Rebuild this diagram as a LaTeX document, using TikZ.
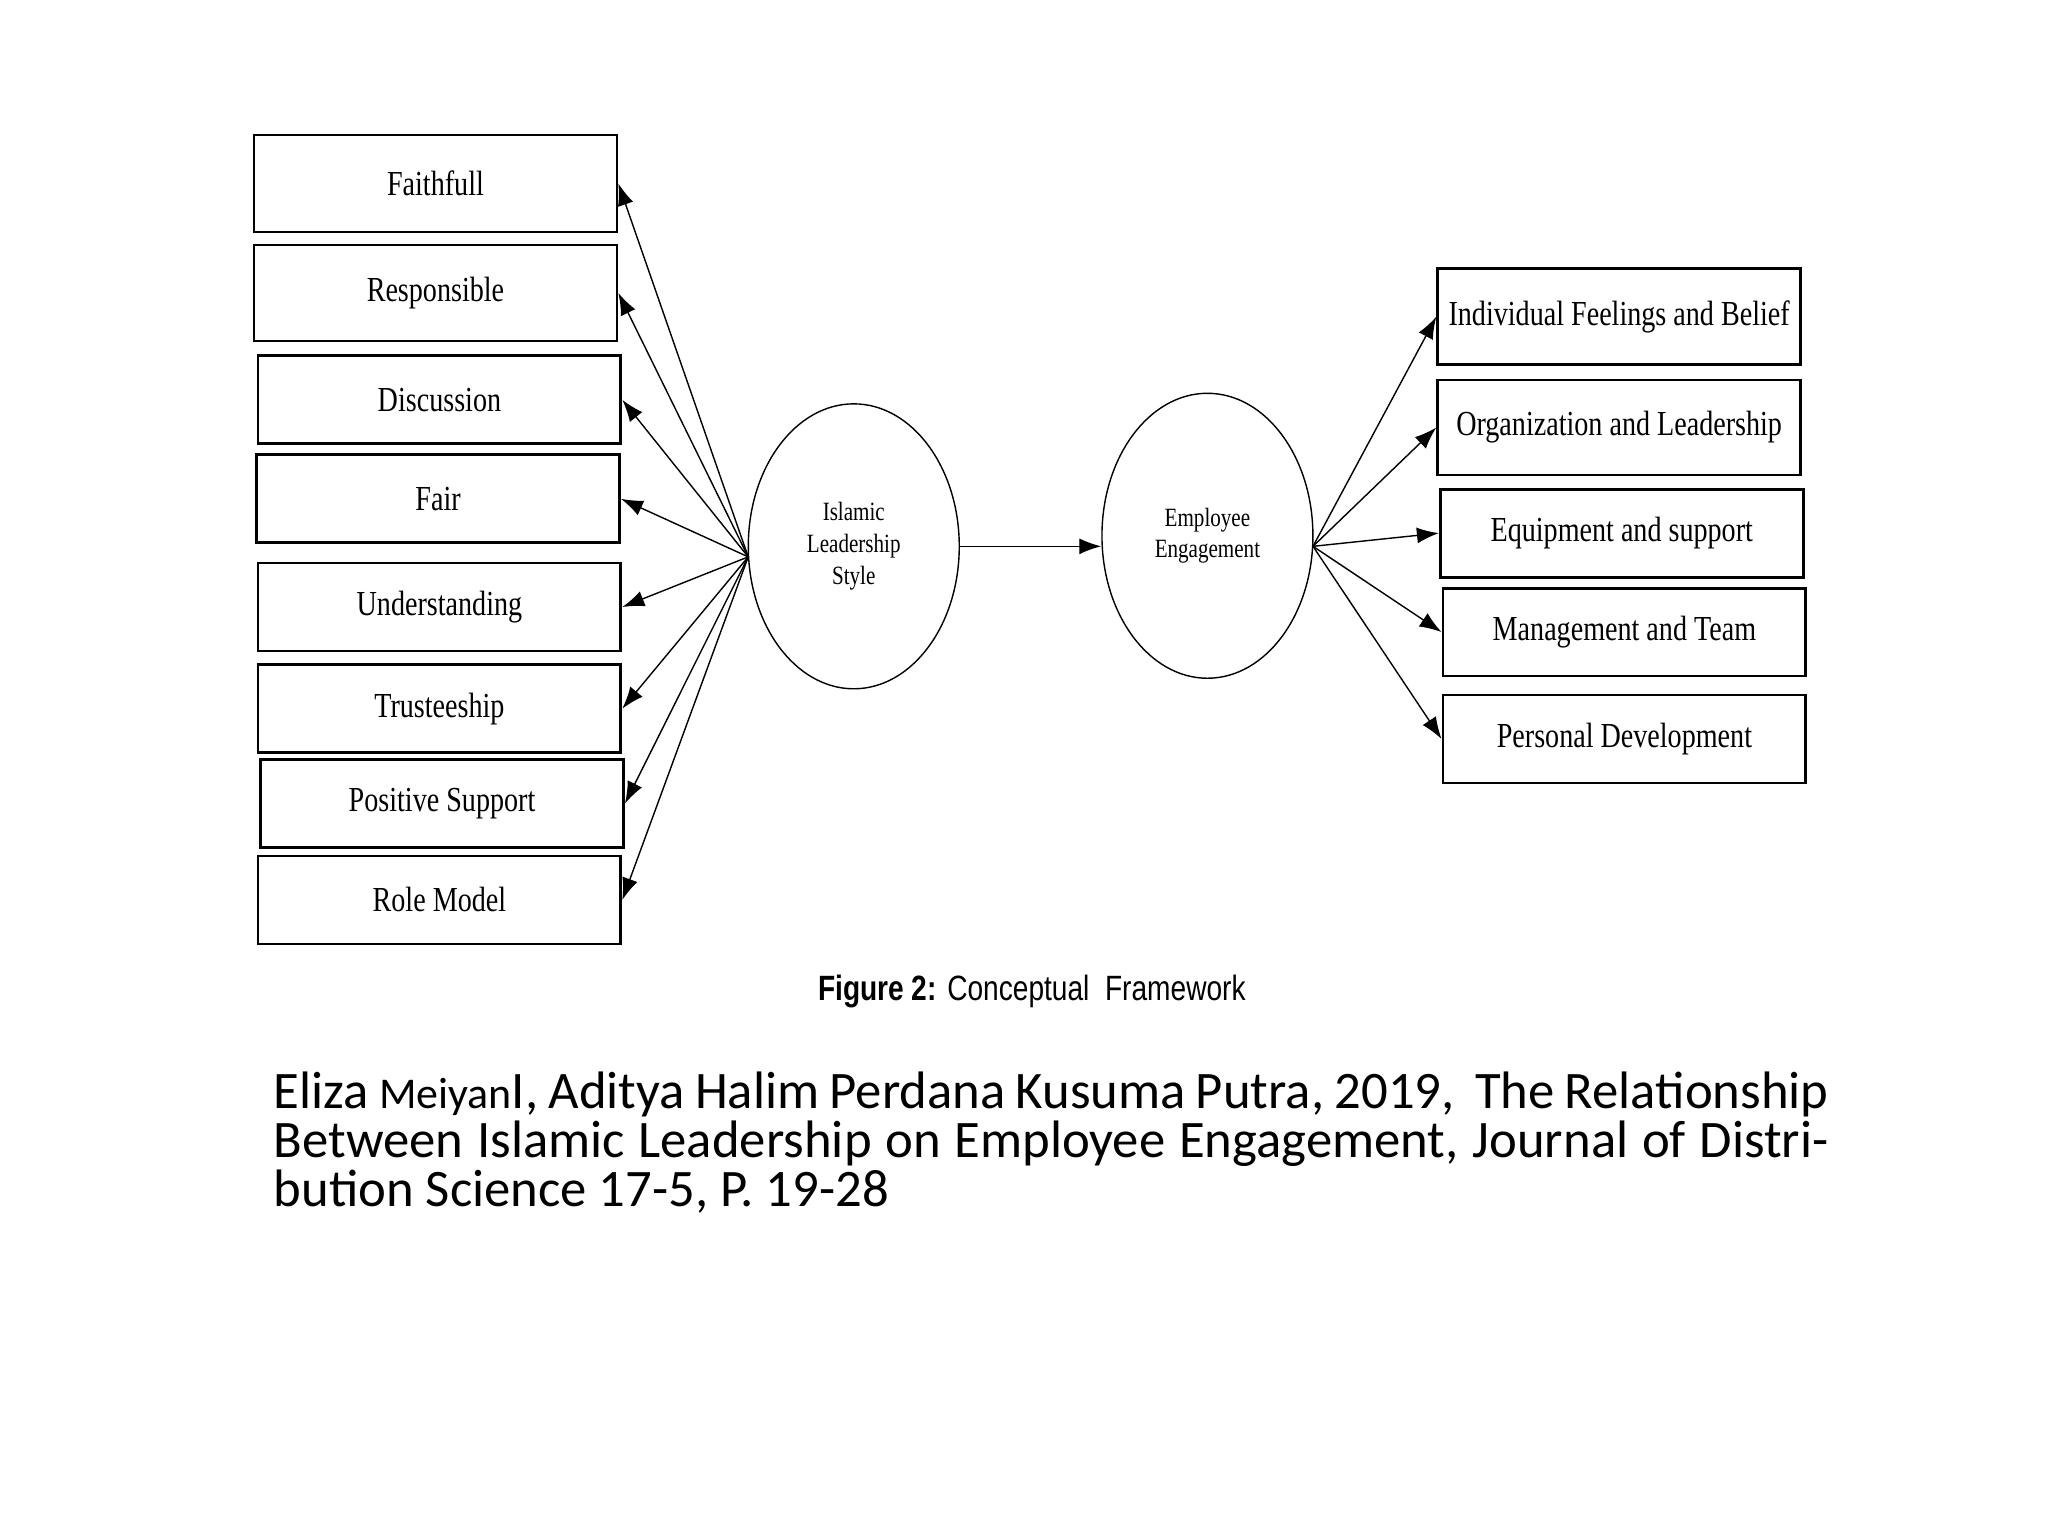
\documentclass[tikz,border=0pt]{standalone}
\usepackage{fontspec}
\setmainfont{Liberation Serif}
\newfontfamily\boxfont{Liberation Serif}[FakeStretch=0.8]
\newfontfamily\circfont{Liberation Serif}[FakeStretch=0.8]
\newfontfamily\capfont{Liberation Sans}[FakeStretch=0.8]
\newfontfamily\citefont{Carlito}
\usetikzlibrary{shapes.geometric,arrows.meta}
\tikzstyle{box} = [draw, thick, minimum width=3.63cm, minimum height=0.88cm, inner xsep=1pt, font=\boxfont\fontsize{10}{12}\selectfont]
\tikzstyle{latent} = [draw, ellipse, minimum width=2.11cm, minimum height=2.85cm, inner sep=0pt, align=center, font=\circfont\fontsize{7.5}{9}\selectfont]
\begin{document}
\begin{tikzpicture}[x=0.0132cm,y=-0.0132cm,
			link/.style={-{Latex[length=2.2mm,width=1.6mm]}}]
			\useasboundingbox (0,0) rectangle (1552,1164);
			% left indicators
			\node (f1)[box,minimum height=0.97cm] at (330,139) {Faithfull};
			\node (f2)[box,minimum height=0.96cm] at (330,222) {Responsible};
			\node (f3)[box] at (333,303) {Discussion};
			\node (f4)[box] at (332,378) {Fair};
			\node (f5)[box] at (333,460) {Understanding};
			\node (f6)[box] at (333,537) {Trusteeship};
			\node (f7)[box] at (335,609) {Positive Support};
			\node (f8)[box] at (333,682) {Role Model};
			% constructs
			\node (ils)[latent] at (647,414) {Islamic\\Leadership\\Style};
			\node (ee)[latent] at (915,406) {Employee\\Engagement};
			% right indicators
			\node (e1)[box,minimum height=0.96cm] at (1227,240) {Individual Feelings and Belief};
			\node (e2)[box,minimum height=0.95cm] at (1227,324) {Organization and Leadership};
			\node (e3)[box] at (1229,404) {Equipment and support};
			\node (e4)[box] at (1231,479) {Management and Team};
			\node (e5)[box] at (1231,560) {Personal Development};
			\coordinate (s) at (567,422);
			\coordinate (t) at (995,414);
			\foreach \i in {1,...,8}
				\draw [link] (s) -- (f\i.east);
			\foreach \i in {1,...,5}
				\draw [link] (t) -- (e\i.west);
			\draw [link] (ils.east |- 0,414) -- (ee.west |- 0,414);
			% caption and source
			\node (cap) at (782,751) {\capfont\fontsize{10}{12}\selectfont\textbf{Figure 2:} Conceptual\ \ Framework};
			\node (src)[anchor=north west,text width=15.55cm,align=justify,inner sep=0pt] at (207,812)
				{\citefont\fontsize{15}{21}\selectfont\hyphenpenalty=10000\exhyphenpenalty=10000 Eliza {\fontsize{12.5}{14}\selectfont Meiyan}I, Aditya Halim Perdana Kusuma Putra, 2019,\ \ The Relationship Between Islamic Leadership on Employee Engagement, Journal of Distribution Science 17-5, P. 19-28};
		\end{tikzpicture}
\end{document}
